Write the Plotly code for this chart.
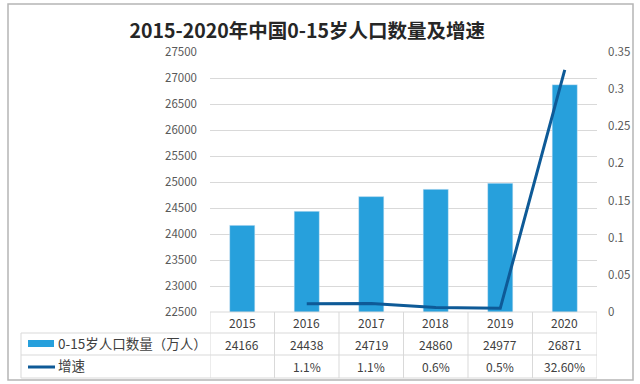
import plotly.graph_objects as go

years = ["2015", "2016", "2017", "2018", "2019", "2020"]
population = [24166, 24438, 24719, 24860, 24977, 26871]
growth = [None, 0.011, 0.0115, 0.006, 0.005, 0.326]
growth_labels = ["", "1.1%", "1.1%", "0.6%", "0.5%", "32.60%"]
bar_name = "0-15岁人口数量（万人）"
line_name = "增速"
title_text = "2015-2020年中国0-15岁人口数量及增速"

BAR = "#27a0dc"
LINE = "#0e5a97"
GRID = "#d9d9d9"
TXT = "#404040"
TICK = "#595959"
FONT = "Noto Sans CJK SC"

L, R, T, B = 210, 43, 52, 72
W, H = 640, 384
PW, PH = W - L - R, H - T - B

def px(x):
    return (x - L) / PW

def py(y):
    return (H - B - y) / PH

idx = list(range(len(years)))

fig = go.Figure()
fig.add_trace(go.Bar(x=idx, y=population, marker_color=BAR, width=0.39,
                     name=bar_name, showlegend=False))
fig.add_trace(go.Scatter(x=idx, y=growth, mode="lines", yaxis="y2",
                         line=dict(color=LINE, width=3), name=line_name,
                         showlegend=False, connectgaps=False))

shapes = []
shapes.append(dict(type="rect", xref="paper", yref="paper",
                   x0=px(8), x1=px(633), y0=py(380), y1=py(4),
                   line=dict(color="#b5b5b5", width=1.5)))
for yy, x0 in [(312, 210), (333, 21), (355, 21), (378, 21)]:
    shapes.append(dict(type="line", xref="paper", yref="paper",
                       x0=px(x0), x1=1, y0=py(yy), y1=py(yy),
                       line=dict(color=GRID, width=1)))
for i in range(len(years) + 1):
    shapes.append(dict(type="line", xref="x", yref="paper",
                       x0=i - 0.5, x1=i - 0.5, y0=py(312), y1=py(378),
                       line=dict(color=GRID, width=1)))
shapes.append(dict(type="line", xref="paper", yref="paper",
                   x0=px(21), x1=px(21), y0=py(333), y1=py(378),
                   line=dict(color=GRID, width=1)))
shapes.append(dict(type="rect", xref="paper", yref="paper",
                   x0=px(28), x1=px(54), y0=py(347), y1=py(340),
                   fillcolor=BAR, line=dict(width=0)))
shapes.append(dict(type="line", xref="paper", yref="paper",
                   x0=px(28), x1=px(55), y0=py(367), y1=py(367),
                   line=dict(color=LINE, width=3)))

annotations = []
for i, yr in enumerate(years):
    annotations.append(dict(x=i, y=py(322), xref="x", yref="paper", text=yr,
                            showarrow=False, yanchor="middle",
                            font=dict(size=12, color=TXT)))
    annotations.append(dict(x=i, y=py(344), xref="x", yref="paper",
                            text=str(population[i]), showarrow=False,
                            yanchor="middle", font=dict(size=12, color=TXT)))
    if growth_labels[i]:
        annotations.append(dict(x=i, y=py(366), xref="x", yref="paper",
                                text=growth_labels[i], showarrow=False,
                                yanchor="middle", font=dict(size=12, color=TXT)))
annotations.append(dict(x=px(56), y=py(343), xref="paper", yref="paper",
                        text=bar_name, showarrow=False, xanchor="left",
                        yanchor="middle", font=dict(size=13.5, color=TXT)))
annotations.append(dict(x=px(56), y=py(365), xref="paper", yref="paper",
                        text=line_name, showarrow=False, xanchor="left",
                        yanchor="middle", font=dict(size=13.5, color=TXT)))

fig.update_layout(
    width=W, height=H,
    margin=dict(l=L, r=R, t=T, b=B, autoexpand=False),
    paper_bgcolor="white", plot_bgcolor="white",
    font=dict(family=FONT, color=TICK, size=11),
    title=dict(text="<b>" + title_text + "</b>", x=0.48, xanchor="center",
               y=1 - 31 / H, yanchor="middle",
               font=dict(size=19.5, color="#262626", family=FONT)),
    xaxis=dict(range=[-0.5, 5.5], showticklabels=False,
               showgrid=False, zeroline=False, showline=False, ticks=""),
    yaxis=dict(range=[22500, 27500], dtick=500, tickformat="d", showgrid=True,
               gridcolor=GRID, gridwidth=1, zeroline=False, showline=False,
               ticks="", tickfont=dict(size=11.5, color=TICK), ticklabelstandoff=12),
    yaxis2=dict(range=[0, 0.35], dtick=0.05, overlaying="y", side="right",
                showgrid=False, zeroline=False, showline=False, ticks="",
                tickfont=dict(size=11.5, color=TICK), ticklabelstandoff=10),
    shapes=shapes, annotations=annotations,
)

fig.write_html("out.html", config={"displayModeBar": False},
               post_script="document.body.style.margin='0';")
